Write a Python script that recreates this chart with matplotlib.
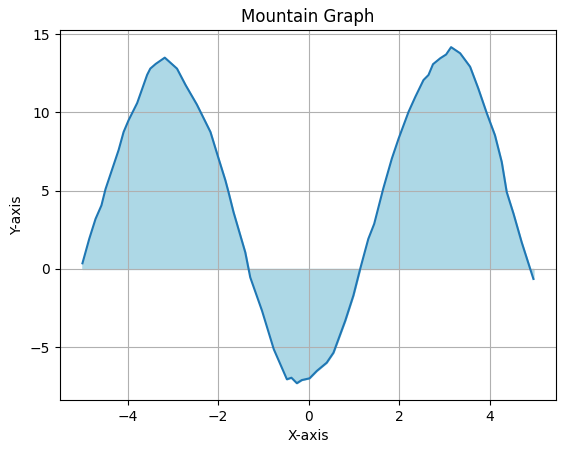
import numpy as np
import matplotlib
matplotlib.use("Agg")
import matplotlib.pyplot as plt

# values
x_vals = [-5.00, -4.85, -4.71, -4.58, -4.49, -4.20, -4.09, -3.98, -3.79, -3.57,
          -3.50, -3.38, -3.18, -2.91, -2.72, -2.47, -2.17, -1.99, -1.84, -1.77,
          -1.66, -1.40, -1.29, -1.03, -0.77, -0.48, -0.38, -0.26, -0.15, 0.02,
          0.18, 0.40, 0.55, 0.81, 0.99, 1.14, 1.32, 1.45, 1.65, 1.84,
          1.99, 2.21, 2.36, 2.54, 2.65, 2.75, 2.91, 3.04, 3.15, 3.35,
          3.57, 3.75, 3.94, 4.12, 4.27, 4.38, 4.53, 4.71, 4.97]
y_vals = [0.36, 1.92, 3.2, 4.06, 5.1, 7.6, 8.75, 9.5, 10.6, 12.4,
          12.8, 13.1, 13.5, 12.8, 11.75, 10.5, 8.75, 7.05, 5.66, 4.9,
          3.63, 1.06, -0.54, -2.67, -5.13, -7.05, -6.95, -7.3, -7.1, -6.99,
          -6.52, -5.99, -5.35, -3.31, -1.7, 0.0, 1.92, 2.88, 5.13, 7.05,
          8.33, 10.04, 11.0, 12.07, 12.39, 13.08, 13.46, 13.7, 14.17, 13.78,
          12.92, 11.54, 9.94, 8.54, 6.83, 4.91, 3.53, 1.71, -0.64]

x = np.array(x_vals)
y = np.array(y_vals)

fig, ax = plt.subplots(figsize=(5.65, 4.53), dpi=100)
fig.subplots_adjust(left=0.106, right=0.984, top=0.933, bottom=0.117)

ax.plot(x, y)
ax.fill_between(x, y, color='lightblue')

ax.set_title("Mountain Graph")
ax.set_xlabel("X-axis")
ax.set_ylabel("Y-axis")
ax.grid(True)

fig.savefig("out.png", dpi=100)
